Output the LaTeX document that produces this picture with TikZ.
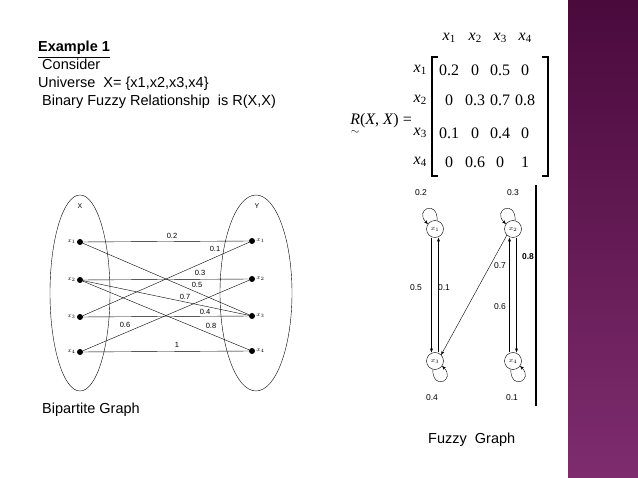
\documentclass[tikz,border=0pt]{standalone}
\usepackage{amsmath}
\usepackage{fontspec}
\setmainfont{Liberation Sans}
\newfontfamily\serifmat{Liberation Serif}
\usetikzlibrary{arrows.meta,calc,positioning}
\definecolor{bardark}{HTML}{4A0A3C}
\definecolor{barlight}{HTML}{7E2C6E}
\tikzset{
  slide/.style={font=\fontsize{14.5}{16}\selectfont, anchor=base west, inner sep=0pt},
  dot/.style={circle, fill=black, inner sep=0pt, minimum size=6pt},
  tiny/.style={font=\fontsize{6}{7}\selectfont, inner sep=1pt},
  wlab/.style={font=\fontsize{7.5}{8}\selectfont, inner sep=0.5pt},
  flab/.style={font=\fontsize{8.5}{9}\selectfont, inner sep=0.5pt},
  fnode/.style={circle, draw, thin, minimum size=17pt, inner sep=0pt, font=\fontsize{7}{8}\selectfont},
  farr/.style={-{Stealth[length=4pt,width=3pt]}, thin},
  mat/.style={font=\serifmat\fontsize{16}{18}\selectfont, inner sep=0pt}
}
\newcommand{\xv}[1]{\textit{x}\raisebox{-0.3ex}{\fontsize{11}{12}\selectfont #1}}
\begin{document}
\begin{tikzpicture}[x=1pt,y=-1pt]
  \useasboundingbox (0,0) rectangle (638,478);
  \fill[white] (0,0) rectangle (638,478);
  \shade[top color=bardark, bottom color=barlight] (568,0) rectangle (638,478);
  %% Text on the left
  \node[slide, font=\fontsize{14.5}{16}\selectfont\bfseries] (ex) at (38,52) {\underline{Example 1}};
  \node[slide] (cons) at (38,70) {\ Consider};
  \node[slide] (univ) at (38,88) {Universe\ \ X= \{x1,x2,x3,x4\}};
  \node[slide] (bin) at (38,106) {\ Binary Fuzzy Relationship\ \ is R(X,X)};
  \node[slide] (bip) at (38,414) {\ Bipartite Graph};
  \node[slide] (fg) at (428,444) {Fuzzy\ \ Graph};
  %% Matrix
  \node[mat, anchor=east] (rxx) at (412,125) {$\underset{\sim}{\textit{R}}$(\textit{X}, \textit{X}) =};
  \foreach \c/\x in {1/449,2/475,3/500,4/525}
    \node[mat] (h\c) at (\x,38) {\xv{\c}};
  \foreach \r/\y in {1/70,2/100,3/133,4/162}
    \node[mat] (r\r) at (420,\y) {\xv{\r}};
  \foreach \r/\y/\a/\b/\cc/\d in {1/70/0.2/0/0.5/0, 2/100/0/0.3/0.7/0.8, 3/133/0.1/0/0.4/0, 4/162/0/0.6/0/1}{
    \node[mat] at (449,\y) {\a};
    \node[mat] at (475,\y) {\b};
    \node[mat] at (500,\y) {\cc};
    \node[mat] at (525,\y) {\d};
  }
  \draw[line width=1.6pt] (438,57) -- (432,57) -- (432,176) -- (438,176);
  \draw[line width=1.6pt] (542,57) -- (548,57) -- (548,176) -- (542,176);
  %% Bipartite graph
  \draw[thin] (80,293) ellipse (30pt and 98pt);
  \draw[thin] (256,293) ellipse (36pt and 98pt);
  \node[font=\fontsize{7}{8}\selectfont] (X) at (80,206) {X};
  \node[font=\fontsize{7}{8}\selectfont] (Y) at (257,206) {Y};
  \foreach \i/\y in {1/242,2/280,3/317,4/352}{
    \node[dot, label={[tiny]left:$x_{\i}$}] (a\i) at (80,\y) {};
    \node[dot, label={[tiny]right:$x_{\i}$}] (b\i) at (252,\y-1) {};
  }
  \draw (a1) -- (b1);
  \draw (a3) -- (b1);
  \draw (a2) -- (b2);
  \draw (a1) -- (b3);
  \draw (a2) -- (b3);
  \draw (a3) -- (b3);
  \draw (a4) -- (b2);
  \draw (a2) -- (b4);
  \draw (a4) -- (b4);
  \node[wlab] at (172,236) {0.2};
  \node[wlab] at (215,249) {0.1};
  \node[wlab] at (200,273) {0.3};
  \node[wlab] at (197,285) {0.5};
  \node[wlab] at (185,297) {0.7};
  \node[wlab] at (205,312) {0.4};
  \node[wlab] at (125,325) {0.6};
  \node[wlab] at (211,326) {0.8};
  \node[wlab] at (177,345) {1};
  %% Fuzzy graph
  \node[fnode] (f1) at (435,229) {$x_1$};
  \node[fnode] (f2) at (513,229) {$x_2$};
  \node[fnode] (f3) at (435,361) {$x_3$};
  \node[fnode] (f4) at (513,361) {$x_4$};
  \draw[farr] ([xshift=-3.5pt]f1.south) -- ([xshift=-3.5pt]f3.north);
  \draw[farr] ([xshift=3.5pt]f3.north) -- ([xshift=3.5pt]f1.south);
  \draw[farr] (f2.south west) -- (f3.north east);
  \draw[farr] ([xshift=-3.5pt]f4.north) -- ([xshift=-3.5pt]f2.south);
  \draw[farr] ([xshift=3.5pt]f2.south) -- ([xshift=3.5pt]f4.north);
  \draw[farr] (f1.75) .. controls +(0,-22) and +(-14,-14) .. (f1.145);
  \draw[farr] (f2.75) .. controls +(0,-22) and +(-14,-14) .. (f2.145);
  \draw[farr] (f3.-105) .. controls +(0,22) and +(14,14) .. (f3.-35);
  \draw[farr] (f4.-105) .. controls +(0,22) and +(14,14) .. (f4.-35);
  \node[flab] at (421,193) {0.2};
  \node[flab] at (513,193) {0.3};
  \node[flab] at (432,398) {0.4};
  \node[flab] at (512,398) {0.1};
  \node[flab] at (416,288) {0.5};
  \node[flab] at (444,288) {0.1};
  \node[flab] at (500,266) {0.7};
  \node[flab] at (500,307) {0.6};
  \node[flab, font=\fontsize{8.5}{9}\selectfont\bfseries] at (528,257) {0.8};
  \draw[line width=1.8pt] (536,185) -- (536,406);
\end{tikzpicture}
\end{document}
